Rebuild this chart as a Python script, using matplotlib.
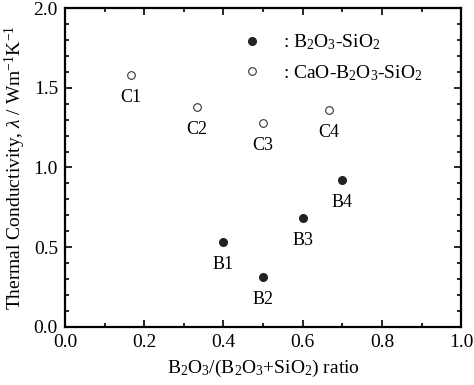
import matplotlib
matplotlib.use('Agg')
import matplotlib.pyplot as plt
from matplotlib.ticker import MultipleLocator

plt.rcParams['font.family'] = ['Liberation Serif', 'DejaVu Serif']
plt.rcParams['mathtext.fontset'] = 'custom'
plt.rcParams['mathtext.rm'] = 'Liberation Serif'
plt.rcParams['mathtext.it'] = 'Liberation Serif:italic'

# B2O3-SiO2 (filled)
b_names = ['B1', 'B2', 'B3', 'B4']
b_x = [0.40, 0.50, 0.60, 0.70]
b_y = [0.53, 0.31, 0.68, 0.92]

# CaO-B2O3-SiO2 (open)
c_names = ['C1', 'C2', 'C3', 'C4']
c_x = [0.167, 0.333, 0.50, 0.667]
c_y = [1.58, 1.38, 1.28, 1.36]

fig = plt.figure(figsize=(4.74, 3.85), dpi=100)
ax = fig.add_axes([0.137, 0.151, 0.836, 0.828])

ax.plot(b_x, b_y, 'o', color='#222222', ms=5.5, ls='none',
        label=r': B$_2$O$_3$-SiO$_2$')
ax.plot(c_x, c_y, 'o', mfc='white', mec='#333333', mew=0.8, ms=5.5, ls='none',
        label=r': CaO-B$_2$O$_3$-SiO$_2$')

for n, x, y in zip(b_names, b_x, b_y):
    ax.annotate(n, (x, y), xytext=(0, -16), textcoords='offset points',
                ha='center', va='center', fontsize=13)
for n, x, y in zip(c_names, c_x, c_y):
    ax.annotate(n, (x, y), xytext=(0, -16), textcoords='offset points',
                ha='center', va='center', fontsize=13)

ax.set_xlim(0, 1.0)
ax.set_ylim(0, 2.0)
ax.xaxis.set_major_locator(MultipleLocator(0.2))
ax.xaxis.set_minor_locator(MultipleLocator(0.1))
ax.yaxis.set_major_locator(MultipleLocator(0.5))
ax.yaxis.set_minor_locator(MultipleLocator(0.1))
ax.tick_params(which='both', direction='in', top=True, right=True, labelsize=14, width=1.2)
ax.tick_params(which='major', length=5)
ax.tick_params(which='minor', length=3)
ax.tick_params(axis='x', pad=5)
ax.tick_params(axis='y', pad=5)
for s in ax.spines.values():
    s.set_linewidth(1.6)

ax.set_xlabel(r'B$_2$O$_3$/(B$_2$O$_3$+SiO$_2$) ratio', fontsize=14, labelpad=5)
ax.set_ylabel(r'Thermal Conductivity, $\mathit{\lambda}$ / Wm$^{-1}$K$^{-1}$', fontsize=14, labelpad=4)

ax.legend(loc='upper left', bbox_to_anchor=(0.427, 0.947), frameon=False, fontsize=14,
          handletextpad=1.1, labelspacing=0.55, handlelength=1.0, borderaxespad=0)

fig.savefig('out.png', dpi=100)
